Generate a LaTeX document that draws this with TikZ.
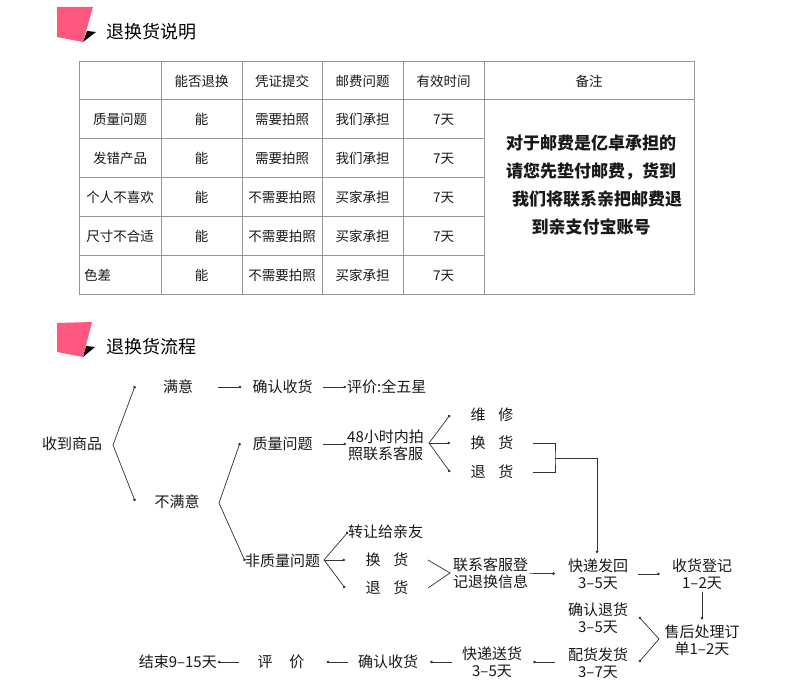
\documentclass[tikz,border=0pt]{standalone}
\usepackage{fontspec}
\setmainfont{Noto Sans CJK SC}
\usetikzlibrary{arrows.meta}
\definecolor{pinkc}{RGB}{255,88,126}
\definecolor{inkc}{RGB}{25,25,25}
\definecolor{linec}{RGB}{50,50,50}
\definecolor{gridc}{RGB}{150,150,150}
\begin{document}
\begin{tikzpicture}[x=1pt,y=-1pt,
  txt/.style={inner sep=0pt, font=\fontsize{15pt}{17pt}\selectfont, text=inkc, align=center},
  ttxt/.style={inner sep=0pt, font=\fontsize{13.5pt}{16pt}\selectfont, text=inkc},
  ttl/.style={inner sep=0pt, anchor=west, font=\fontsize{18pt}{20pt}\selectfont, text=black},
  conn/.style={draw=linec, line width=0.7pt},
  dotend/.style={conn, -{Circle[length=2.6pt]}},
  gridline/.style={draw=gridc, line width=1pt}
]
\path[use as bounding box, fill=white] (0,0) rectangle (804,700);

% ---------- title markers ----------
\fill[black] (87,31) -- (96,32) -- (83,42) -- cycle;
\fill[pinkc] (57,7) -- (93,7) -- (83,42) -- (57,37) -- cycle;
\node[ttl] (title1) at (106,32) {退换货说明};

\fill[black] (86,346) -- (95,347) -- (83,357) -- cycle;
\fill[pinkc] (57,323) -- (92,322) -- (83,357) -- (57,352) -- cycle;
\node[ttl] (title2) at (106,347) {退换货流程};

% ---------- table ----------
\draw[gridline] (79,62) rectangle (694,295);
\draw[gridline] (79,100) -- (694,100);
\foreach \yy in {139,178,217,256} \draw[gridline] (79,\yy) -- (484,\yy);
\foreach \xx in {161,242,322,403,484} \draw[gridline] (\xx,62) -- (\xx,295);

\node[ttxt] (h2) at (201.5,81) {能否退换};
\node[ttxt] (h3) at (282,81) {凭证提交};
\node[ttxt] (h4) at (362.5,81) {邮费问题};
\node[ttxt] (h5) at (443.5,81) {有效时间};
\node[ttxt] (h6) at (589,81) {备注};

\foreach \a/\c/\d [count=\i] in {质量问题/需要拍照/我们承担,发错产品/需要拍照/我们承担,个人不喜欢/不需要拍照/买家承担,尺寸不合适/不需要拍照/买家承担}{
  \pgfmathsetmacro\yy{80.5+39*\i}
  \node[ttxt] (ra\i) at (120,\yy) {\a};
  \node[ttxt] (rb\i) at (201.5,\yy) {能};
  \node[ttxt] (rc\i) at (282,\yy) {\c};
  \node[ttxt] (rd\i) at (362.5,\yy) {\d};
  \node[ttxt] (re\i) at (443.5,\yy) {7天};
}
\node[ttxt, anchor=west] (ra5) at (84,275.5) {色差};
\node[ttxt] (rb5) at (201.5,275.5) {能};
\node[ttxt] (rc5) at (282,275.5) {不需要拍照};
\node[ttxt] (rd5) at (362.5,275.5) {买家承担};
\node[ttxt] (re5) at (443.5,275.5) {7天};

\node[ttxt, font=\fontsize{17pt}{28pt}\selectfont\bfseries, align=center] (remark) at (591,185)
  {对于邮费是亿卓承担的\\请您先垫付邮费，货到\\\hspace*{12pt}我们将联系亲把邮费退\\到亲支付宝账号};

% ---------- flow chart ----------
\node[txt] (recv) at (72,444) {收到商品};
\node[txt] (manyi) at (178,387) {满意};
\node[txt] (bmy) at (177,502) {不满意};
\node[txt] (qrsh1) at (282.5,387) {确认收货};
\node[txt, anchor=west] (pj5) at (347,387) {评价:全五星};
\node[txt] (zlwt) at (282.5,444) {质量问题};
\node[txt, anchor=west] (p48) at (347,445) {48小时内拍\\照联系客服};
\node[txt] (wx) at (492,415) {维\hspace{13pt}修};
\node[txt] (hh1) at (492,443) {换\hspace{13pt}货};
\node[txt] (th1) at (492,472) {退\hspace{13pt}货};
\node[txt, anchor=west] (fzl) at (245,561) {非质量问题};
\node[txt, anchor=west] (zr) at (348,532) {转让给亲友};
\node[txt] (hh2) at (387,560) {换\hspace{13pt}货};
\node[txt] (th2) at (387,588) {退\hspace{13pt}货};
\node[txt, anchor=west] (lxkf) at (453,573) {联系客服登\\记退换信息};
\node[txt] (kdfh) at (598,574) {快递发回\\3–5天};
\node[txt] (shdj) at (702,574) {收货登记\\1–2天};
\node[txt] (shcl) at (702,640) {售后处理订\\单1–2天};
\node[txt] (qrth) at (598,618) {确认退货\\3–5天};
\node[txt] (phfh) at (598,663) {配货发货\\3–7天};
\node[txt] (kdsh) at (492,662) {快递送货\\3–5天};
\node[txt] (qrsh2) at (388,662) {确认收货};
\node[txt] (pj) at (281,662) {评\hspace{17pt}价};
\node[txt, anchor=east] (endn) at (217,662) {结束9–15天};

% bracket: recv
\coordinate (v1) at (113,445);
\coordinate (v1a) at (135,386);
\coordinate (v1b) at (135,501);
\draw[dotend] (v1) -- (v1a);
\draw[dotend] (v1) -- (v1b);
% bracket: not satisfied
\coordinate (v2) at (219,503);
\coordinate (v2a) at (240,443);
\draw[dotend] (v2) -- (v2a);
\draw[dotend] (v2) -- (fzl.west);
% bracket: 48h
\coordinate (v3) at (429,443);
\coordinate (v3a) at (450,415);
\coordinate (v3b) at (450,443);
\coordinate (v3c) at (450,472);
\draw[dotend] (v3) -- (v3a);
\draw[dotend] (v3) -- (v3b);
\draw[dotend] (v3) -- (v3c);
% bracket: non-quality
\coordinate (v4) at (324,560);
\coordinate (v4b) at (345,560);
\coordinate (v4c) at (345,588);
\draw[dotend] (v4) -- (zr.west);
\draw[dotend] (v4) -- (v4b);
\draw[dotend] (v4) -- (v4c);
% converge to lxkf
\coordinate (v5a) at (428,560);
\coordinate (v5b) at (428,588);
\coordinate (v5) at (450,573);
\draw[conn] (v5a) -- (v5) -- (v5b);
% exchange / return bracket to kdfh
\coordinate (b1) at (533,443);
\coordinate (b2) at (533,472);
\coordinate (bm) at (555,458);
\coordinate (bd) at (597,553);
\draw[conn] (b1) -| (bm) |- (b2);
\draw[dotend] (bm) -| (bd);
% bracket: after-sale to qrth / phfh
\coordinate (v6) at (659,639);
\coordinate (v6a) at (639,617);
\coordinate (v6b) at (639,662);
\draw[dotend] (v6) -- (v6a);
\draw[dotend] (v6) -- (v6b);

% straight arrows
\draw[dotend, shorten <=25pt, shorten >=11pt] (manyi) -- (qrsh1);
\draw[dotend, shorten <=10pt, shorten >=1pt] (qrsh1) -- (pj5);
\draw[dotend, shorten <=10pt, shorten >=1pt] (zlwt.east) -- (zlwt.east -| p48.west);
\draw[dotend, shorten <=1pt, shorten >=13pt] (lxkf) -- (kdfh);
\draw[dotend, shorten <=10pt, shorten >=12pt] (kdfh) -- (shdj);
\draw[dotend, shorten <=2pt, shorten >=5pt] (shdj) -- (shcl);
\draw[dotend, shorten <=13pt, shorten >=11pt] (phfh.west |- kdsh) -- (kdsh);
\draw[dotend, shorten <=10pt, shorten >=12pt] (kdsh) -- (qrsh2);
\draw[dotend, shorten <=10pt, shorten >=22pt] (qrsh2) -- (pj);
\draw[dotend, shorten <=18pt, shorten >=1pt] (pj) -- (endn);
\end{tikzpicture}
\end{document}
